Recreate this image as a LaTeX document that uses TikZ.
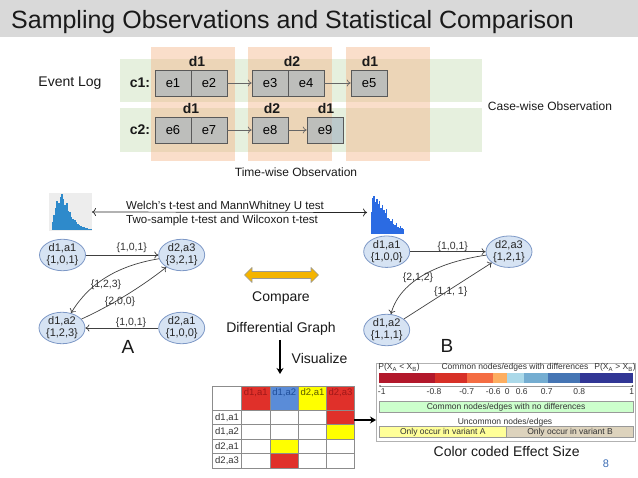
\documentclass[tikz,border=0pt]{standalone}
\usepackage{fontspec}
\setmainfont{Liberation Sans}
\usetikzlibrary{shapes.geometric,shapes.arrows,arrows.meta}
\definecolor{titlebg}{HTML}{D9D9D9}
\definecolor{orangecol}{HTML}{F5B58A}
\definecolor{greenrow}{HTML}{D2E4C2}
\definecolor{evfill}{HTML}{9FAFBF}
\definecolor{nodefill}{HTML}{D6E3F3}
\definecolor{nodedraw}{HTML}{7D98C6}
\definecolor{histA}{HTML}{2E8ACB}
\definecolor{histB}{HTML}{2B6BE3}
\definecolor{cmpyellow}{HTML}{F4B400}
\definecolor{tred}{HTML}{E0302A}
\definecolor{tblue}{HTML}{5A8CD8}
\definecolor{tyellow}{HTML}{FFFF00}
\definecolor{tredtxt}{HTML}{A01818}
\definecolor{tbluetxt}{HTML}{1F4E9A}
\definecolor{tyeltxt}{HTML}{5A5A00}
\definecolor{lg1}{HTML}{B2182B}
\definecolor{lg2}{HTML}{D73027}
\definecolor{lg3}{HTML}{F46D43}
\definecolor{lg4}{HTML}{FDAE61}
\definecolor{lg5}{HTML}{ABD9E9}
\definecolor{lg6}{HTML}{74ADD1}
\definecolor{lg7}{HTML}{4575B4}
\definecolor{lg8}{HTML}{313695}
\definecolor{lggreen}{HTML}{CCFFCC}
\definecolor{lgyellow}{HTML}{FFFF99}
\definecolor{lgtan}{HTML}{DDD3BD}
\definecolor{pagenum}{HTML}{3B6CB4}
\newcommand{\myfs}[2]{\fontsize{#1}{#2}\selectfont}
\tikzset{
  txt/.style={inner sep=0pt, text=black!90},
  evbox/.style={draw=black!65, line width=0.6pt, fill=evfill, fill opacity=0.6, text opacity=1,
    minimum width=36pt, minimum height=26pt, inner sep=0pt, font=\myfs{13}{15}},
  dlab/.style={txt, font=\bfseries\myfs{14}{16}},
  evarrow/.style={draw=black!60, line width=0.7pt, -{To[length=4pt,width=7pt]}},
  gnode/.style={ellipse, draw=nodedraw, line width=0.8pt, fill=nodefill, minimum width=46pt,
    minimum height=30pt, inner sep=0pt, align=center, font=\myfs{11}{12}, text=black!85},
  gedge/.style={draw=black!75, line width=0.7pt, -{To[length=4pt,width=7pt]}},
  elab/.style={txt, font=\myfs{10.5}{11}, text=black!80},
  big/.style={txt, font=\myfs{14}{16}},
  tbtxt/.style={txt, font=\myfs{9.5}{11}, text=black!80},
  lgtxt/.style={txt, font=\myfs{8.5}{10}, text=black!80},
  lgbox/.style={draw=black!40, line width=0.5pt, inner sep=0pt, font=\myfs{8.5}{10}, text=black!80,
    minimum height=10.6pt},
  bigarrow/.style={draw=black, line width=1.4pt, -{Stealth[length=6pt,width=7pt]}}
}
\begin{document}
\begin{tikzpicture}[x=1pt,y=-1pt]
\useasboundingbox (0,0) rectangle (638,478);
% title bar
\fill[titlebg] (0,0) rectangle (638,37);
\node[txt, anchor=base west, font=\myfs{25}{30}] (title) at (11,28.5) {Sampling Observations and Statistical Comparison};

% case-wise rows and time-wise columns
\fill[greenrow, opacity=0.55] (120,59) rectangle (482,102);
\fill[greenrow, opacity=0.55] (120,108) rectangle (482,152);
\fill[orangecol, opacity=0.45] (150.5,47) rectangle (235,161);
\fill[orangecol, opacity=0.45] (248,47) rectangle (332,161);
\fill[orangecol, opacity=0.45] (346,47) rectangle (430,161);

% event boxes
\node[evbox] (e1) at (173,83) {e1};
\node[evbox] (e2) at (209,83) {e2};
\node[evbox] (e3) at (270,83) {e3};
\node[evbox] (e4) at (306,83) {e4};
\node[evbox] (e5) at (369,83) {e5};
\node[evbox] (e6) at (173,130) {e6};
\node[evbox] (e7) at (209,130) {e7};
\node[evbox] (e8) at (270,130) {e8};
\node[evbox] (e9) at (325,130) {e9};
\draw[evarrow] (e2) -- (e3);
\draw[evarrow] (e4) -- (e5);
\draw[evarrow] (e7) -- (e8);
\draw[evarrow] (e8) -- (e9);

\node[dlab] (d1a) at (197,61) {d1};
\node[dlab] (d2a) at (292,61) {d2};
\node[dlab] (d1b) at (370,61) {d1};
\node[dlab] (d1c) at (191,108) {d1};
\node[dlab] (d2c) at (272,108) {d2};
\node[dlab] (d1d) at (326,108) {d1};
\node[dlab] (c1) at (140,83) {c1:};
\node[dlab] (c2) at (140,130) {c2:};
\node[big] (evlog) at (70,83) {Event Log};
\node[txt, font=\myfs{12}{14}] (casewise) at (550,106) {Case-wise Observation};
\node[txt, font=\myfs{12}{14}] (timewise) at (296,172) {Time-wise Observation};

% histograms
\fill[black!7] (49,193) rectangle (92,231);
\foreach \h [count=\i from 0] in {8,15,22,29,27,33,36,31,25,27,19,18,13,11,10,8,6,5,4,3.5,3,2.5,2,1.5,1.2}
  \fill[histA] ({51.5+1.6*\i},230.5) rectangle ++(1.6,-\h);
\foreach \h [count=\i from 0] in {22,36,38,32,35,30,33,26,29,24,21,25,16,15,13,15,10,9,11,7,6,8,6,5}
  \fill[histB] ({370.5+1.4*\i},234.5) rectangle ++(1.4,-\h);
\coordinate (hA) at (92,212);
\coordinate (hB) at (367,212.5);
\draw[black!85, line width=0.7pt, {To[length=4pt,width=8pt]}-{To[length=4pt,width=8pt]}] (hA) -- (hB);
\node[txt, anchor=base west, font=\myfs{11.5}{13}] (welch) at (126,210) {Welch's t-test and MannWhitney U test};
\node[txt, anchor=base west, font=\myfs{11.5}{13}] (twos) at (126,223.3) {Two-sample t-test and Wilcoxon t-test};

% graph A
\node[gnode] (a11) at (62.5,255) {d1,a1\\\{1,0,1\}};
\node[gnode] (a23) at (181.7,255) {d2,a3\\\{3,2,1\}};
\node[gnode] (a12) at (62,328) {d1,a2\\\{1,2,3\}};
\node[gnode] (a21) at (181.7,328) {d2,a1\\\{1,0,0\}};
\draw[gedge] (a11) -- (a23);
\draw[gedge] (a21) -- (a12);
\draw[gedge] (a12) .. controls (110,306) and (140,288) .. (a23);
\draw[gedge] (a23) .. controls (115,266) and (88,285) .. (a12);
\node[elab] (la1) at (131.7,247.5) {\{1,0,1\}};
\node[elab] (la2) at (131,322.5) {\{1,0,1\}};
\node[elab] (la3) at (120,302) {\{2,0,0\}};
\node[elab] (la4) at (106,285) {\{1,2,3\}};
\node[txt, font=\myfs{19}{21}] (labA) at (128,347) {A};

% graph B
\node[gnode] (b11) at (386.7,251.7) {d1,a1\\\{1,0,0\}};
\node[gnode] (b23) at (509,251.7) {d2,a3\\\{1,2,1\}};
\node[gnode] (b12) at (386.7,330) {d1,a2\\\{1,1,1\}};
\draw[gedge] (b11) -- (b23);
\draw[gedge] (b23) .. controls (440,262) and (400,280) .. (b12);
\draw[gedge] (b12) -- (b23);
\node[elab] (lb1) at (452.7,247) {\{1,0,1\}};
\node[elab] (lb2) at (418,278) {\{2,1,2\}};
\node[elab] (lb3) at (450.7,291.7) {\{1,1, 1\}};
\node[txt, font=\myfs{19}{21}] (labB) at (447,346) {B};

% compare (yellow double arrow)
\filldraw[fill=cmpyellow, draw=black!40, line width=0.6pt, line join=round]
  (244.5,275) -- (252,267.5) -- (252,271.5) -- (311,271.5) -- (311,267.5) -- (318.5,275)
  -- (311,282.5) -- (311,278.5) -- (252,278.5) -- (252,282.5) -- cycle;
\node[big] (compare) at (281,298) {Compare};
\node[big] (diffg) at (281,329) {Differential Graph};
\coordinate (vtop) at (280,340);
\coordinate (vbot) at (280,374);
\draw[bigarrow] (vtop) -- (vbot);
\node[big, anchor=west] (visual) at (291.5,358.5) {Visualize};

% table
\fill[tred] (241.7,386) rectangle (270,410);
\fill[tblue] (270,386) rectangle (298.3,410);
\fill[tyellow] (298.3,386) rectangle (326.7,410);
\fill[tred] (326.7,386) rectangle (354.3,410);
\fill[tred] (326.7,410) rectangle (354.3,424.5);
\fill[tyellow] (326.7,424.5) rectangle (354.3,439);
\fill[tyellow] (270,439) rectangle (298.3,453.5);
\fill[tred] (270,453.5) rectangle (298.3,468);
\draw[black!45, line width=0.8pt] (212.3,386) rectangle (354.3,468);
\foreach \x in {241.7,270,298.3,326.7} \draw[black!45, line width=0.8pt] (\x,386) -- (\x,468);
\foreach \y in {410,424.5,439,453.5} \draw[black!45, line width=0.8pt] (212.3,\y) -- (354.3,\y);
\node[tbtxt, text=tredtxt] (h1) at (255.8,392.5) {d1,a1};
\node[tbtxt, text=tbluetxt] (h2) at (284.2,392.5) {d1,a2};
\node[tbtxt, text=tyeltxt] (h3) at (312.5,392.5) {d2,a1};
\node[tbtxt, text=tredtxt] (h4) at (340.5,392.5) {d2,a3};
\node[tbtxt, anchor=west] (r1) at (215,417.2) {d1,a1};
\node[tbtxt, anchor=west] (r2) at (215,431.7) {d1,a2};
\node[tbtxt, anchor=west] (r3) at (215,446.2) {d2,a1};
\node[tbtxt, anchor=west] (r4) at (215,460.7) {d2,a3};
\coordinate (tout) at (354.3,420);
\coordinate (lin) at (376,420);
\draw[bigarrow] (tout) -- (lin);

% legend
\draw[black!30, line width=0.5pt] (376.7,363.3) rectangle (635,441);
\node[lgtxt] (pl) at (399,367.7) {P(X\textsubscript{A} < X\textsubscript{B})};
\node[lgtxt] (cwd) at (515,367.7) {Common nodes/edges with differences};
\node[lgtxt] (pg) at (615,367.7) {P(X\textsubscript{A} > X\textsubscript{B})};
\fill[lg1] (379.3,373.3) rectangle (435,383.3);
\fill[lg2] (435,373.3) rectangle (466.7,383.3);
\fill[lg3] (466.7,373.3) rectangle (492.7,383.3);
\fill[lg4] (492.7,373.3) rectangle (507.3,383.3);
\fill[lg5] (507.3,373.3) rectangle (524,383.3);
\fill[lg6] (524,373.3) rectangle (548.3,383.3);
\fill[lg7] (548.3,373.3) rectangle (580,383.3);
\fill[lg8] (580,373.3) rectangle (633.3,383.3);
\draw[black!40, line width=0.4pt] (380,386) -- (632.5,386);
\fill[black!70] (380,386) circle (0.9);
\fill[black!70] (632.5,386) circle (0.9);
\node[lgtxt] (t1) at (381.7,392) {-1};
\node[lgtxt] (t2) at (434,392) {-0.8};
\node[lgtxt] (t3) at (466.7,392) {-0.7};
\node[lgtxt] (t4) at (493.3,392) {-0.6};
\node[lgtxt] (t5) at (507.3,392) {0};
\node[lgtxt] (t6) at (521.7,392) {0.6};
\node[lgtxt] (t7) at (546.7,392) {0.7};
\node[lgtxt] (t8) at (579.3,392) {0.8};
\node[lgtxt] (t9) at (631.7,392) {1};
\node[lgbox, fill=lggreen, minimum width=254.3pt] (nodiff) at (506.15,407) {Common nodes/edges with no differences};
\node[lgtxt] (uncommon) at (505,422.7) {Uncommon nodes/edges};
\node[lgbox, fill=lgyellow, minimum width=127.7pt] (onlyA) at (442.85,432) {Only occur in variant A};
\node[lgbox, fill=lgtan, minimum width=126.6pt] (onlyB) at (570,432) {Only occur in variant B};
\node[big] (ccode) at (506.7,451.7) {Color coded Effect Size};
\node[txt, font=\myfs{11}{13}, text=pagenum] (pnum) at (606,463.5) {8};
\end{tikzpicture}
\end{document}
